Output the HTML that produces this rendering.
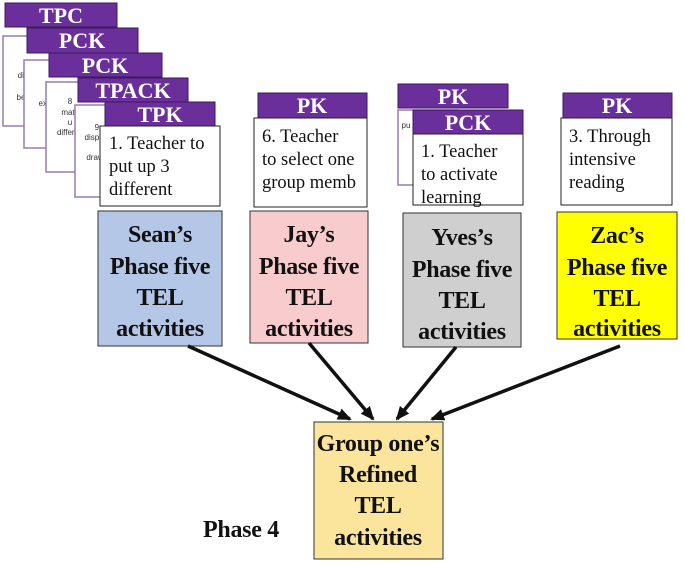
<!DOCTYPE html>
<html><head><meta charset="utf-8"><style>
html,body{margin:0;padding:0;background:#fff;}
svg{display:block;}
.h{font-family:"Liberation Serif",serif;font-weight:bold;fill:#fff;font-size:22px;text-anchor:middle;}
.t{font-family:"Liberation Serif",serif;fill:#111;font-size:18.5px;}
.b{font-family:"Liberation Serif",serif;font-weight:bold;fill:#111;font-size:24px;text-anchor:middle;letter-spacing:-0.3px;}
.s{font-family:"Liberation Sans",sans-serif;fill:#333;font-size:8px;text-anchor:middle;}
</style></head><body>
<svg width="685" height="567" viewBox="0 0 685 567" xmlns="http://www.w3.org/2000/svg">
<defs>
<marker id="ar" markerWidth="14" markerHeight="12" refX="12" refY="6" orient="auto" markerUnits="userSpaceOnUse"><path d="M0,0 L14,6 L0,12 z" fill="#111"/></marker></defs>

<rect x="3" y="36" width="110" height="90" fill="#fff" stroke="#9a7bb0" stroke-width="1.5"/>
<text class="s" x="30" y="66">4</text><text class="s" x="25" y="78">disp</text><text class="s" x="25" y="100">betw</text>
<rect x="5" y="3" width="112" height="24" fill="#6b2f9c" stroke="#3e1a5c"/>
<text class="h" x="61" y="23">TPC</text>
<rect x="24" y="60" width="110" height="88" fill="#fff" stroke="#9a7bb0" stroke-width="1.5"/>
<text class="s" x="45" y="106">exp</text>
<rect x="27" y="28" width="111" height="25" fill="#6b2f9c" stroke="#3e1a5c"/>
<text class="h" x="82" y="48">PCK</text>
<rect x="46" y="82" width="110" height="90" fill="#fff" stroke="#9a7bb0" stroke-width="1.5"/>
<text class="s" x="70" y="104">8</text><text class="s" x="68" y="115">mat</text><text class="s" x="70" y="125">u</text><text class="s" x="68" y="135">differe</text>
<rect x="49" y="53" width="113" height="24" fill="#6b2f9c" stroke="#3e1a5c"/>
<text class="h" x="105" y="73">PCK</text>
<rect x="75" y="105" width="110" height="92" fill="#fff" stroke="#9a7bb0" stroke-width="1.5"/>
<text class="s" x="98" y="130">9.</text><text class="s" x="95" y="140">displa</text><text class="s" x="95" y="160">draw</text>
<rect x="78" y="78" width="110" height="24" fill="#6b2f9c" stroke="#3e1a5c"/>
<text class="h" x="133" y="98">TPACK</text>
<rect x="105" y="102" width="110" height="25" fill="#6b2f9c" stroke="#3e1a5c"/>
<text class="h" x="160" y="122">TPK</text>
<rect x="100" y="126" width="120" height="80" fill="#fff" stroke="#222"/>
<text class="t"><tspan x="109" y="149">1. Teacher to</tspan><tspan x="109" y="172">put up 3</tspan><tspan x="109" y="195">different</tspan></text>

<rect x="258" y="93" width="109" height="25" fill="#6b2f9c" stroke="#3e1a5c"/>
<text class="h" x="312" y="113">PK</text>
<rect x="254" y="118" width="113" height="89" fill="#fff" stroke="#222"/>
<text class="t"><tspan x="262" y="142">6. Teacher</tspan><tspan x="262" y="165">to select one</tspan><tspan x="262" y="188">group memb</tspan></text>

<rect x="398" y="110" width="60" height="75" fill="#fff" stroke="#9a7bb0" stroke-width="1.5"/>
<text class="s" x="406" y="128">pu</text>
<rect x="398" y="84" width="110" height="24" fill="#6b2f9c" stroke="#3e1a5c"/>
<text class="h" x="453" y="104">PK</text>
<rect x="413" y="110" width="110" height="25" fill="#6b2f9c" stroke="#3e1a5c"/>
<text class="h" x="468" y="130">PCK</text>
<rect x="413" y="134" width="110" height="71" fill="#fff" stroke="#222"/>
<text class="t"><tspan x="421" y="157">1. Teacher</tspan><tspan x="421" y="180">to activate</tspan><tspan x="421" y="203">learning</tspan></text>

<rect x="563" y="93" width="109" height="25" fill="#6b2f9c" stroke="#3e1a5c"/>
<text class="h" x="617" y="113">PK</text>
<rect x="561" y="118" width="111" height="87" fill="#fff" stroke="#222"/>
<text class="t"><tspan x="569" y="142">3. Through</tspan><tspan x="569" y="165">intensive</tspan><tspan x="569" y="188">reading</tspan></text>

<rect x="98" y="211" width="124" height="135" fill="#b4c7e7" stroke="#333"/>
<text class="b"><tspan x="160" y="242">Sean’s</tspan><tspan x="160" y="274">Phase five</tspan><tspan x="160" y="305">TEL</tspan><tspan x="160" y="336">activities</tspan></text>
<rect x="250" y="211" width="118" height="132" fill="#f8cbcd" stroke="#333"/>
<text class="b"><tspan x="309" y="242">Jay’s</tspan><tspan x="309" y="274">Phase five</tspan><tspan x="309" y="305">TEL</tspan><tspan x="309" y="336">activities</tspan></text>
<rect x="403" y="213" width="118" height="134" fill="#cfcfcf" stroke="#333"/>
<text class="b"><tspan x="462" y="245">Yves’s</tspan><tspan x="462" y="277">Phase five</tspan><tspan x="462" y="308">TEL</tspan><tspan x="462" y="339">activities</tspan></text>
<rect x="557" y="212" width="120" height="127" fill="#ffff00" stroke="#333"/>
<text class="b"><tspan x="617" y="243">Zac’s</tspan><tspan x="617" y="275">Phase five</tspan><tspan x="617" y="306">TEL</tspan><tspan x="617" y="336">activities</tspan></text>

<g stroke="#111" stroke-width="3.5" marker-end="url(#ar)">
<line x1="188" y1="346" x2="350" y2="419"/>
<line x1="309" y1="343" x2="373" y2="419"/>
<line x1="456" y1="347" x2="397" y2="419"/>
<line x1="620" y1="346" x2="432" y2="419"/>
</g>

<rect x="314" y="422" width="129" height="137" fill="#fbe49c" stroke="#333"/>
<text class="b"><tspan x="378" y="451">Group one’s</tspan><tspan x="378" y="482">Refined</tspan><tspan x="378" y="513">TEL</tspan><tspan x="378" y="545">activities</tspan></text>
<text class="b" x="241" y="537">Phase 4</text>
</svg>
</body></html>
